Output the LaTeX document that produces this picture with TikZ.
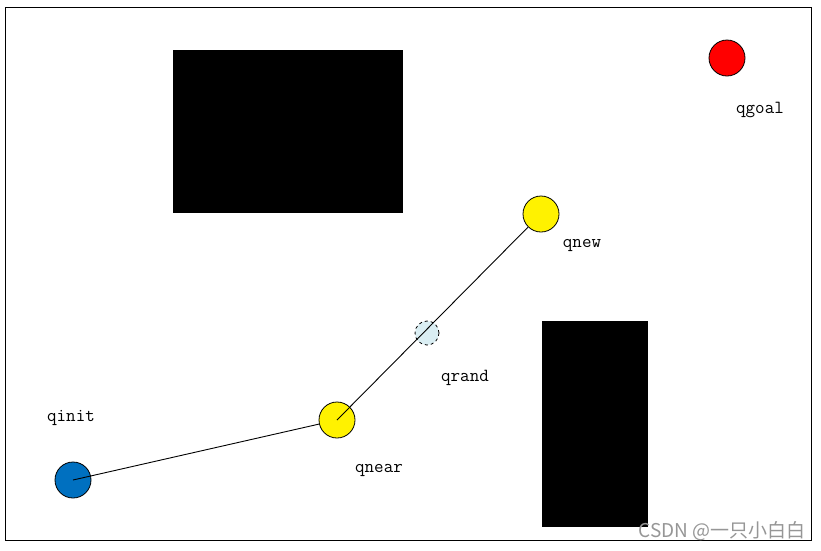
\documentclass[tikz,border=0pt]{standalone}
\usepackage{fontspec}
\newfontfamily\cjk{Noto Sans CJK SC}
\begin{document}
\begin{tikzpicture}[x=1pt,y=-1pt,
  obst/.style={fill=black,draw=none},
  pt/.style={circle,draw=black,line width=0.8pt,minimum size=36pt,inner sep=0pt},
  lbl/.style={font=\ttfamily\fontsize{18.5}{18.5}\selectfont,inner sep=0pt},
  edge/.style={draw=black,line width=0.9pt}]
\useasboundingbox (0,0) rectangle (821,550);
\draw[line width=0.9pt] (5,7) rectangle (811,540);
\fill[obst] (173,50) rectangle (403,213);
\fill[obst] (542,321) rectangle (648,527);
\node[pt,fill=red] (qgoal) at (727,58) {};
\node[pt,fill=yellow] (qnew) at (541,214) {};
\node[pt,fill={rgb,255:red,218;green,238;blue,243},minimum size=24pt,dashed] (qrand) at (427,333) {};
\node[pt,fill=yellow] (qnear) at (337,420) {};
\node[pt,fill={rgb,255:red,0;green,112;blue,192}] (qinit) at (73,480) {};
\draw[edge] (qinit.center) -- (qnear);
\draw[edge] (qnear.center) -- (qnew);
\node[lbl] (linit) at (71,418) {qinit};
\node[lbl] (lnear) at (379,470) {qnear};
\node[lbl] (lrand) at (465,378) {qrand};
\node[lbl] (lnew) at (582,245) {qnew};
\node[lbl] (lgoal) at (760,110) {qgoal};
\node[font=\cjk\fontsize{19}{19}\selectfont,text={rgb,255:red,150;green,150;blue,150},anchor=east,inner sep=0pt] (wm) at (806,531) {CSDN @一只小白白};
\end{tikzpicture}
\end{document}
